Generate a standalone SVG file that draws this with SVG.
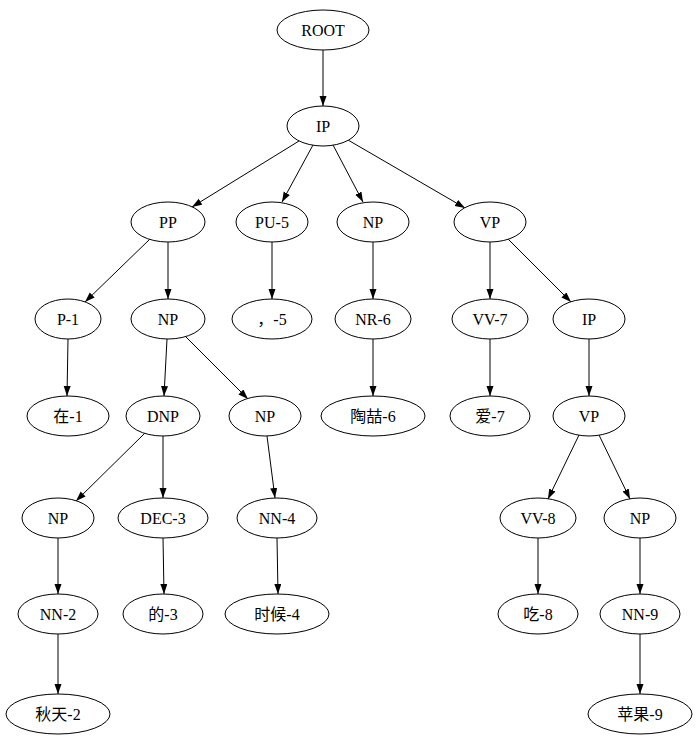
<svg xmlns="http://www.w3.org/2000/svg" width="698" height="747" viewBox="0 0 698 747">
<style>
ellipse{fill:#fff;stroke:#000;stroke-width:1}
text{font-family:"Liberation Serif","Noto Sans CJK SC",serif;font-size:16px;text-anchor:middle;dominant-baseline:central;fill:#000}
#edges line{stroke:#000;stroke-width:1;marker-end:url(#a)}
</style>
<defs><marker id="a" markerUnits="userSpaceOnUse" markerWidth="10" markerHeight="8" refX="10" refY="3.5" orient="auto"><path d="M0,0L10,3.5L0,7z" fill="#000"/></marker></defs>
<rect width="698" height="747" fill="#fff"/>
<g id="edges">
<line x1="323" y1="50" x2="323" y2="106"/>
<line x1="299" y1="141" x2="192" y2="207"/>
<line x1="313" y1="145" x2="282" y2="202"/>
<line x1="333" y1="145" x2="363" y2="202"/>
<line x1="348" y1="140" x2="465" y2="208"/>
<line x1="150" y1="239" x2="85" y2="302"/>
<line x1="168" y1="242" x2="168" y2="299"/>
<line x1="272" y1="242" x2="272" y2="299"/>
<line x1="373" y1="242" x2="373" y2="299"/>
<line x1="490" y1="242" x2="490" y2="299"/>
<line x1="508" y1="239" x2="571" y2="302"/>
<line x1="68" y1="339" x2="67" y2="396"/>
<line x1="167" y1="339" x2="164" y2="396"/>
<line x1="185" y1="336" x2="248" y2="399"/>
<line x1="373" y1="339" x2="373" y2="396"/>
<line x1="490" y1="339" x2="490" y2="396"/>
<line x1="589" y1="339" x2="589" y2="396"/>
<line x1="145" y1="433" x2="76" y2="501"/>
<line x1="163" y1="436" x2="163" y2="498"/>
<line x1="267" y1="436" x2="275" y2="498"/>
<line x1="579" y1="435" x2="548" y2="499"/>
<line x1="599" y1="435" x2="630" y2="499"/>
<line x1="58" y1="538" x2="58" y2="594"/>
<line x1="163" y1="538" x2="164" y2="594"/>
<line x1="277" y1="538" x2="278" y2="594"/>
<line x1="538" y1="538" x2="538" y2="594"/>
<line x1="640" y1="538" x2="640" y2="594"/>
<line x1="58" y1="634" x2="58" y2="694"/>
<line x1="640" y1="634" x2="640" y2="694"/>
</g>
<g id="n0"><ellipse cx="323" cy="30" rx="46" ry="20"/><text x="323" y="30">ROOT</text></g>
<g id="n1"><ellipse cx="323" cy="126" rx="36" ry="20"/><text x="323" y="126">IP</text></g>
<g id="n2"><ellipse cx="168" cy="222" rx="37" ry="20"/><text x="168" y="222">PP</text></g>
<g id="n3"><ellipse cx="272" cy="222" rx="36" ry="20"/><text x="272" y="222">PU-5</text></g>
<g id="n4"><ellipse cx="373" cy="222" rx="36" ry="20"/><text x="373" y="222">NP</text></g>
<g id="n5"><ellipse cx="490" cy="222" rx="36" ry="20"/><text x="490" y="222">VP</text></g>
<g id="n6"><ellipse cx="68" cy="319" rx="33" ry="20"/><text x="68" y="319">P-1</text></g>
<g id="n7"><ellipse cx="168" cy="319" rx="37" ry="20"/><text x="168" y="319">NP</text></g>
<g id="n8"><ellipse cx="272" cy="319" rx="40" ry="20"/><text x="272" y="319">，-5</text></g>
<g id="n9"><ellipse cx="373" cy="319" rx="38" ry="20"/><text x="373" y="319">NR-6</text></g>
<g id="n10"><ellipse cx="490" cy="319" rx="38" ry="20"/><text x="490" y="319">VV-7</text></g>
<g id="n11"><ellipse cx="589" cy="319" rx="36" ry="20"/><text x="589" y="319">IP</text></g>
<g id="n12"><ellipse cx="68" cy="416" rx="41" ry="20"/><text x="68" y="416">在-1</text></g>
<g id="n13"><ellipse cx="163" cy="416" rx="37" ry="20"/><text x="163" y="416">DNP</text></g>
<g id="n14"><ellipse cx="265" cy="416" rx="36" ry="20"/><text x="265" y="416">NP</text></g>
<g id="n15"><ellipse cx="373" cy="416" rx="52" ry="20"/><text x="373" y="416">陶喆-6</text></g>
<g id="n16"><ellipse cx="490" cy="416" rx="40" ry="20"/><text x="490" y="416">爱-7</text></g>
<g id="n17"><ellipse cx="589" cy="416" rx="36" ry="20"/><text x="589" y="416">VP</text></g>
<g id="n18"><ellipse cx="58" cy="518" rx="36" ry="20"/><text x="58" y="518">NP</text></g>
<g id="n19"><ellipse cx="163" cy="518" rx="45" ry="20"/><text x="163" y="518">DEC-3</text></g>
<g id="n20"><ellipse cx="277" cy="518" rx="40" ry="20"/><text x="277" y="518">NN-4</text></g>
<g id="n21"><ellipse cx="538" cy="518" rx="38" ry="20"/><text x="538" y="518">VV-8</text></g>
<g id="n22"><ellipse cx="640" cy="518" rx="36" ry="20"/><text x="640" y="518">NP</text></g>
<g id="n23"><ellipse cx="58" cy="614" rx="40" ry="20"/><text x="58" y="614">NN-2</text></g>
<g id="n24"><ellipse cx="163" cy="614" rx="40" ry="20"/><text x="163" y="614">的-3</text></g>
<g id="n25"><ellipse cx="277" cy="614" rx="52" ry="20"/><text x="277" y="614">时候-4</text></g>
<g id="n26"><ellipse cx="538" cy="614" rx="40" ry="20"/><text x="538" y="614">吃-8</text></g>
<g id="n27"><ellipse cx="640" cy="614" rx="40" ry="20"/><text x="640" y="614">NN-9</text></g>
<g id="n28"><ellipse cx="58" cy="714" rx="52" ry="20"/><text x="58" y="714">秋天-2</text></g>
<g id="n29"><ellipse cx="640" cy="714" rx="52" ry="20"/><text x="640" y="714">苹果-9</text></g>
</svg>
